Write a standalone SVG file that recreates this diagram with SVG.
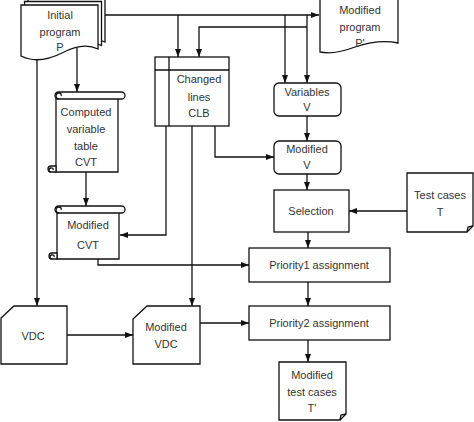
<svg xmlns="http://www.w3.org/2000/svg" width="474" height="422" viewBox="0 0 474 422">
<style>
.s{fill:#fff;stroke:#111;stroke-width:1.3}
.t{font-family:"Liberation Sans",Arial,sans-serif;font-size:11px;fill:#333;text-anchor:middle}
.c{fill:none;stroke:#111;stroke-width:1.3}
</style>
<defs>
<marker id="a" markerUnits="userSpaceOnUse" markerWidth="8" markerHeight="6" refX="8" refY="3" orient="auto"><path d="M0,0 L8,3 L0,6 z" fill="#111"/></marker>
</defs>
<rect width="474" height="422" fill="#fff"/>
<g id="connectors">
<path class="c" d="M105,15 H319" marker-end="url(#a)"/>
<path class="c" d="M178,15 V57" marker-end="url(#a)"/>
<path class="c" d="M285,15 V83" marker-end="url(#a)"/>
<path class="c" d="M307,15 V83" marker-end="url(#a)"/>
<path class="c" d="M307,27 H199 V57" marker-end="url(#a)"/>
<path class="c" d="M77,48 V92" marker-end="url(#a)"/>
<path class="c" d="M37,60 V306" marker-end="url(#a)"/>
<path class="c" d="M86,172 V206" marker-end="url(#a)"/>
<path class="c" d="M166,126 V235 H120" marker-end="url(#a)"/>
<path class="c" d="M192,126 V306" marker-end="url(#a)"/>
<path class="c" d="M215,126 V157 H274" marker-end="url(#a)"/>
<path class="c" d="M307,116 V141" marker-end="url(#a)"/>
<path class="c" d="M307,174 V190" marker-end="url(#a)"/>
<path class="c" d="M407,211 H349" marker-end="url(#a)"/>
<path class="c" d="M308,232 V248" marker-end="url(#a)"/>
<path class="c" d="M98,259 V265 H249" marker-end="url(#a)"/>
<path class="c" d="M67,335 H133" marker-end="url(#a)"/>
<path class="c" d="M200,323 H249" marker-end="url(#a)"/>
<path class="c" d="M308,282 V306" marker-end="url(#a)"/>
<path class="c" d="M308,340 V362" marker-end="url(#a)"/>
</g>
<g id="initial-program">
<path class="s" transform="translate(7,-7)" d="M21,5 H98 V49 C88,44 75,46 62,53 C48,60 33,62 21,56 Z"/>
<path class="s" transform="translate(3.5,-3.5)" d="M21,5 H98 V49 C88,44 75,46 62,53 C48,60 33,62 21,56 Z"/>
<path class="s" d="M21,5 H98 V49 C88,44 75,46 62,53 C48,60 33,62 21,56 Z"/>
<text class="t" x="60" y="19">Initial</text>
<text class="t" x="60" y="36">program</text>
<text class="t" x="60" y="51">P</text>
</g>
<g id="modified-program">
<path class="s" d="M320,-2 H398 V43 C385,40 370,42 355,47 C342,52 330,54 320,52 Z"/>
<text class="t" x="360" y="14">Modified</text>
<text class="t" x="360" y="31">program</text>
<text class="t" x="360" y="47">P'</text>
</g>
<g id="cvt">
<path class="s" d="M56,96 V172 H118 V96"/>
<path class="s" d="M56,166 H51 A3,3 0 0 0 51,172 H56 Z"/>
<path class="c" d="M51,172 A2,2 0 0 1 51,168 A1.5,1.5 0 0 1 53,170"/>
<rect class="s" x="55" y="92" width="70" height="7" rx="3.5"/>
<path class="c" d="M59,99 A3,3 0 0 1 59,93 A2,2 0 0 1 61,96"/>
<text class="t" x="86" y="116">Computed</text>
<text class="t" x="86" y="133">variable</text>
<text class="t" x="86" y="150">table</text>
<text class="t" x="86" y="166">CVT</text>
</g>
<g id="modified-cvt">
<path class="s" d="M57,210 V259 H119 V210"/>
<path class="s" d="M57,253 H52 A3,3 0 0 0 52,259 H57 Z"/>
<path class="c" d="M52,259 A2,2 0 0 1 52,255 A1.5,1.5 0 0 1 54,257"/>
<rect class="s" x="55" y="206" width="70" height="7" rx="3.5"/>
<path class="c" d="M59,213 A3,3 0 0 1 59,207 A2,2 0 0 1 61,210"/>
<text class="t" x="88" y="229">Modified</text>
<text class="t" x="88" y="249">CVT</text>
</g>
<g id="clb">
<rect class="s" x="155" y="57" width="74" height="69"/>
<path class="c" d="M169,57 V126 M155,70 H229"/>
<text class="t" x="199" y="83">Changed</text>
<text class="t" x="199" y="101">lines</text>
<text class="t" x="199" y="117">CLB</text>
</g>
<g id="variables">
<rect class="s" x="274" y="83" width="67" height="33" rx="5"/>
<text class="t" x="307" y="96">Variables</text>
<text class="t" x="307" y="111">V</text>
</g>
<g id="modified-v">
<rect class="s" x="274" y="141" width="67" height="33" rx="5"/>
<text class="t" x="307" y="153">Modified</text>
<text class="t" x="307" y="169">V</text>
</g>
<g id="selection">
<rect class="s" x="274" y="190" width="75" height="42"/>
<text class="t" x="311" y="215">Selection</text>
</g>
<g id="test-cases">
<path class="s" d="M407,173 H473 V226 L467,232 H407 Z"/>
<path class="c" d="M467,232 L468,227 L473,226"/>
<text class="t" x="440" y="199">Test cases</text>
<text class="t" x="440" y="216">T</text>
</g>
<g id="priority1">
<rect class="s" x="249" y="248" width="141" height="34"/>
<text class="t" x="319" y="269">Priority1 assignment</text>
</g>
<g id="priority2">
<rect class="s" x="249" y="306" width="141" height="34"/>
<text class="t" x="319" y="327">Priority2 assignment</text>
</g>
<g id="modified-test-cases">
<path class="s" d="M279,362 H346 V414 L340,420 H279 Z"/>
<path class="c" d="M340,420 L341,415 L346,414"/>
<text class="t" x="312" y="379">Modified</text>
<text class="t" x="312" y="396">test cases</text>
<text class="t" x="312" y="412">T'</text>
</g>
<g id="vdc">
<path class="s" d="M1,318 L14,306 H67 V364 H1 Z"/>
<text class="t" x="33" y="340">VDC</text>
</g>
<g id="modified-vdc">
<path class="s" d="M133,319 L147,306 H200 V364 H133 Z"/>
<text class="t" x="166" y="331">Modified</text>
<text class="t" x="166" y="348">VDC</text>
</g>
</svg>
